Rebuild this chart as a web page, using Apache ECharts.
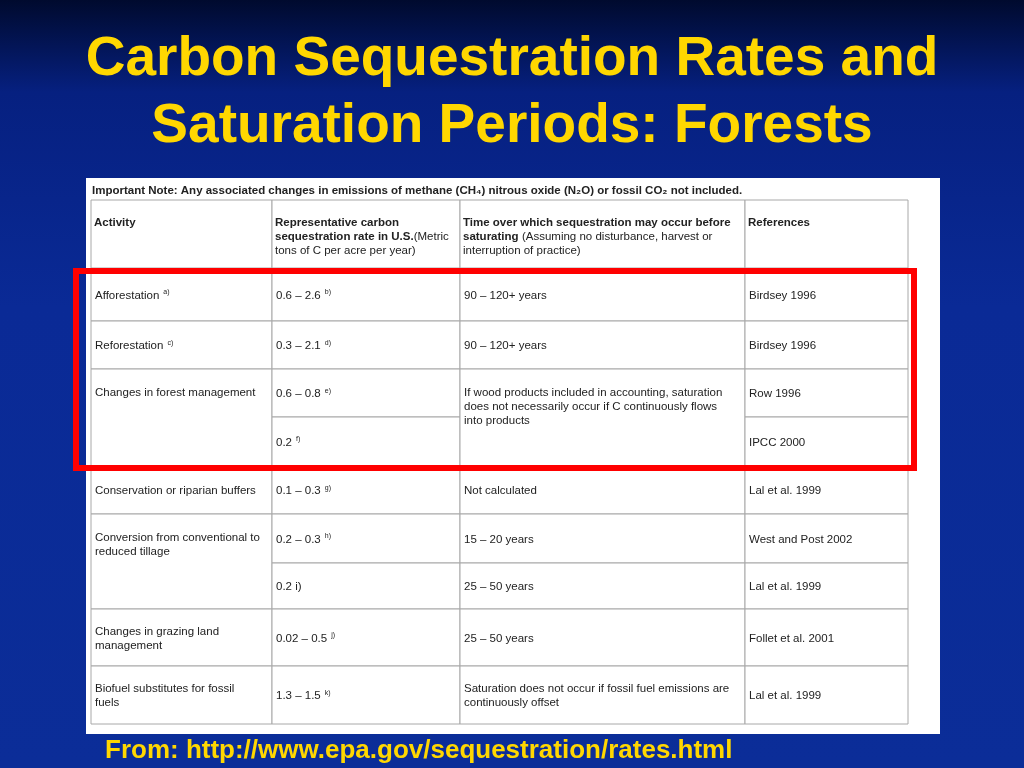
<!DOCTYPE html>
<html><head><meta charset="utf-8">
<script src="https://cdn.jsdelivr.net/npm/echarts@6/dist/echarts.min.js"></script>
<style>html,body{margin:0;padding:0;background:#0a2a8c}#c{width:1024px;height:768px}</style>
</head><body><div id="c"></div>
<script>
const titleLines = ["Carbon Sequestration Rates and", "Saturation Periods: Forests"];
const noteText = "Important Note: Any associated changes in emissions of methane (CH₄) nitrous oxide (N₂O) or fossil CO₂ not included.";
const sourceText = "From: http://www.epa.gov/sequestration/rates.html";
const activities = ["Afforestation", "Reforestation", "Changes in forest management", "Conservation or riparian buffers", "Conversion from conventional to\nreduced tillage", "Changes in grazing land\nmanagement", "Biofuel substitutes for fossil\nfuels"];
const activityNotes = ["a)", "c)", "", "", "", "", ""];
const activitySpans = [1, 1, 2, 1, 2, 1, 1];
const rates = ["0.6 – 2.6", "0.3 – 2.1", "0.6 – 0.8", "0.2", "0.1 – 0.3", "0.2 – 0.3", "0.2 i)", "0.02 – 0.5", "1.3 – 1.5"];
const rateNotes = ["b)", "d)", "e)", "f)", "g)", "h)", "", "j)", "k)"];
const times = ["90 – 120+ years", "90 – 120+ years", "If wood products included in accounting, saturation\ndoes not necessarily occur if C continuously flows\ninto products", "Not calculated", "15 – 20 years", "25 – 50 years", "25 – 50 years", "Saturation does not occur if fossil fuel emissions are\ncontinuously offset"];
const timeSpans = [1, 1, 2, 1, 1, 1, 1, 1];
const refs = ["Birdsey 1996", "Birdsey 1996", "Row 1996", "IPCC 2000", "Lal et al. 1999", "West and Post 2002", "Lal et al. 1999", "Follet et al. 2001", "Lal et al. 1999"];

// layout
const colX = [91, 272, 460, 745, 908];
const rowY = [268, 321, 369, 417, 466, 514, 563, 609, 666, 724];
const FONT = '"Liberation Sans", Arial, sans-serif';
const FS = 11.5;
const g = [];
const rich = {
  n: {fontSize: FS, fontFamily: FONT, fill: '#222', lineHeight: 14},
  b: {fontSize: FS, fontFamily: FONT, fontWeight: 'bold', fill: '#222', lineHeight: 14},
  s: {fontSize: 7, fontFamily: FONT, fill: '#222', padding: [0, 0, 6, 4], lineHeight: 14}
};
function cell(c, r0, span, txt, note, top) {
  const x = colX[c], y = rowY[r0], h = rowY[r0 + span] - y, w = colX[c + 1] - x;
  g.push({type: 'rect', shape: {x: x, y: y, width: w, height: h}, style: {fill: '#fff', stroke: '#a8a8a8', lineWidth: 1}, z: 2});
  const lines = txt.split('\n');
  const t = lines.map((l, i) => '{n|' + l + '}' + (i === lines.length - 1 && note ? '{s|' + note + '}' : '')).join('\n');
  g.push({type: 'text', x: x + 4, y: top ? y + 17 : y + h / 2 + 1, z: 3,
    style: {text: t, rich: rich, verticalAlign: top ? 'top' : 'middle', align: 'left'}});
}
let r = 0;
activities.forEach((a, i) => { cell(0, r, activitySpans[i], a, activityNotes[i], activitySpans[i] > 1); r += activitySpans[i]; });
rates.forEach((v, i) => cell(1, i, 1, v, rateNotes[i], false));
r = 0;
times.forEach((v, i) => { cell(2, r, timeSpans[i], v, '', timeSpans[i] > 1); r += timeSpans[i]; });
refs.forEach((v, i) => cell(3, i, 1, v, '', false));
const head = [
  '{b|Activity}',
  '{b|Representative carbon}\n{b|sequestration rate in U.S.}{n|(Metric}\n{n|tons of C per acre per year)}',
  '{b|Time over which sequestration may occur before}\n{b|saturating} {n|(Assuming no disturbance, harvest or}\n{n|interruption of practice)}',
  '{b|References}'
];
head.forEach((h, c) => {
  g.push({type: 'rect', shape: {x: colX[c], y: 200, width: colX[c + 1] - colX[c], height: 68}, style: {fill: '#fff', stroke: '#a8a8a8', lineWidth: 1}, z: 2});
  g.push({type: 'text', x: colX[c] + 3, y: 216, z: 3, style: {text: h, rich: rich, verticalAlign: 'top'}});
});

const titleFont = 'bold 55px "Liberation Sans", Arial';
const option = {
  backgroundColor: {type: 'linear', x: 0, y: 0, x2: 0, y2: 1, colorStops: [
    {offset: 0, color: '#000a2e'}, {offset: 0.12, color: '#062080'}, {offset: 0.4, color: '#0a2a96'}, {offset: 1, color: '#0b2d98'}]},
  graphic: [
    {type: 'text', left: 'center', top: 32, style: {text: titleLines[0], font: titleFont, fill: '#ffd700', textShadowColor: '#000', textShadowOffsetX: 3, textShadowOffsetY: 3}},
    {type: 'text', left: 'center', top: 99, style: {text: titleLines[1], font: titleFont, fill: '#ffd700', textShadowColor: '#000', textShadowOffsetX: 3, textShadowOffsetY: 3}},
    {type: 'rect', shape: {x: 86, y: 178, width: 854, height: 556}, style: {fill: '#fff'}, z: 1},
    {type: 'text', x: 92, y: 185, z: 3, style: {text: noteText, font: 'bold 11.5px "Liberation Sans", Arial', fill: '#222'}},
    ...g,
    {type: 'rect', shape: {x: 76, y: 271, width: 838, height: 197}, style: {fill: 'none', stroke: '#ff0000', lineWidth: 6}, z: 5},
    {type: 'text', x: 105, y: 738, style: {text: sourceText, font: 'bold 26px "Liberation Sans", Arial', fill: '#ffd700'}}
  ]
};
echarts.init(document.getElementById('c')).setOption(option);
</script></body></html>
